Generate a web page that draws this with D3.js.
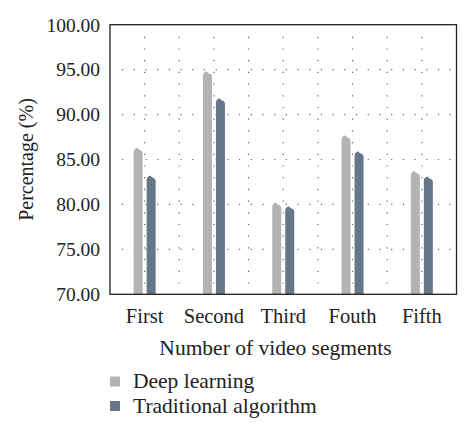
<!DOCTYPE html>
<html><head><meta charset="utf-8">
<script src="https://cdn.jsdelivr.net/npm/d3@7"></script>
<style>body{margin:0;background:#fff}svg{display:block}</style>
</head><body><svg id="c" width="474" height="434"></svg>
<script>
const categories = ["First","Second","Third","Fouth","Fifth"];
const deepLearning = [86.2, 94.7, 80.1, 87.6, 83.6];
const traditional = [83.1, 91.7, 79.7, 85.8, 83.0];
const seriesNames = ["Deep learning","Traditional algorithm"];
const yTicks = [70,75,80,85,90,95,100];

const FONT = "'Liberation Serif', 'DejaVu Serif', serif";
const colors = ["#b3b3b3","#66778a"];
const svg = d3.select("#c");
const m = {l:110, r:456.5, t:24.7, b:294.3};
const x = d3.scaleBand().domain(categories).range([m.l,m.r]);
const y = d3.scaleLinear().domain([70,100]).range([m.b,m.t]);

// dotted grid
const g = svg.append("g");
const vx = d3.range(1,10).map(i => m.l + (m.r-m.l)*i/10);
vx.forEach(px => g.append("line").attr("x1",px).attr("x2",px).attr("y1",m.t+12).attr("y2",m.b-4)
  .attr("stroke","#666").attr("stroke-width",1.2).attr("stroke-dasharray","1.2,10.5"));
yTicks.slice(1,-1).forEach(v => g.append("line").attr("x1",m.l+12).attr("x2",m.r-2).attr("y1",y(v)).attr("y2",y(v))
  .attr("stroke","#666").attr("stroke-width",1.2).attr("stroke-dasharray","1.2,10.5"));

// bars
const bw = 9, gap = 4;
const series = [deepLearning, traditional];
series.forEach((vals, si) => {
  svg.append("g").selectAll("path").data(vals).join("path")
    .attr("d", (d,i) => {
      const cx = x(categories[i]) + x.bandwidth()/2;
      const x0 = si===0 ? cx - gap/2 - bw : cx + gap/2;
      const top = y(d), bot = y(70), r = 3.5;
      return `M${x0},${bot}L${x0},${top+r}Q${x0},${top} ${x0+r},${top-1}L${x0+bw-r},${top+1}Q${x0+bw},${top+1.5} ${x0+bw},${top+r+1}L${x0+bw},${bot}Z`;
    })
    .attr("fill", colors[si]);
});

// frame
svg.append("rect").attr("x",m.l).attr("y",m.t).attr("width",m.r-m.l).attr("height",m.b-m.t)
  .attr("fill","none").attr("stroke","#222").attr("stroke-width",1.3);

function txt(sel){ return sel.attr("font-family",FONT).attr("fill","#222"); }

// y axis labels
txt(svg.append("g").selectAll("text").data(yTicks).join("text"))
  .attr("x",100).attr("y",d=>y(d)).attr("dy","0.35em").attr("text-anchor","end")
  .attr("font-size",19.5).text(d=>d3.format(".2f")(d));

// x labels
txt(svg.append("g").selectAll("text").data(categories).join("text"))
  .attr("x",d=>x(d)+x.bandwidth()/2).attr("y",323).attr("text-anchor","middle")
  .attr("font-size",20.5).text(d=>d);

txt(svg.append("text")).attr("x",275.5).attr("y",355).attr("text-anchor","middle")
  .attr("font-size",21.5).text("Number of video segments");

txt(svg.append("text")).attr("transform",`translate(32.5,${(m.t+m.b)/2}) rotate(-90)`).attr("text-anchor","middle")
  .attr("font-size",20).text("Percentage (%)");

// legend
const lg = svg.append("g");
seriesNames.forEach((n,i) => {
  const yy = 381.5 + i*24.5;
  lg.append("rect").attr("x",110).attr("y",yy-5).attr("width",10).attr("height",10).attr("fill",colors[i]);
  txt(lg.append("text")).attr("x",133).attr("y",yy+6.5).attr("font-size",21.5).text(n);
});
</script></body></html>
